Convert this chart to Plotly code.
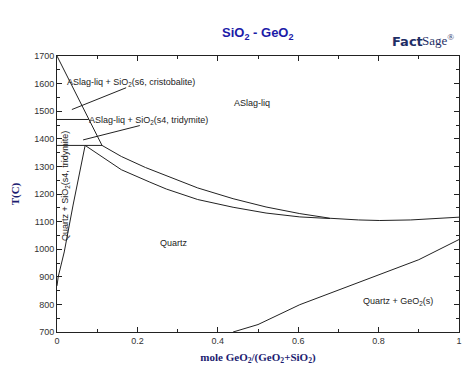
import plotly.graph_objects as go

# Phase boundary data (x = mole GeO2/(GeO2+SiO2), T in C)
liq_upper_x = [0.0, 0.079, 0.112]
liq_upper_t = [1700, 1470, 1376]

liq_x = [0.112, 0.16, 0.22, 0.272, 0.35, 0.438, 0.52, 0.604, 0.68, 0.75, 0.803, 0.88, 0.95, 1.0]
liq_t = [1376, 1336, 1296, 1266, 1222, 1183, 1153, 1129, 1112, 1106, 1104, 1106, 1111, 1116]

sol_x = [0.070, 0.11, 0.16, 0.231, 0.272, 0.35, 0.438, 0.52, 0.604, 0.68]
sol_t = [1376, 1336, 1288, 1243, 1218, 1180, 1152, 1131, 1117, 1111]

qz_x = [0.0, 0.003, 0.018, 0.04, 0.070]
qz_t = [867, 900, 990, 1160, 1376]

geo2_x = [0.438, 0.5, 0.604, 0.77, 0.9, 1.0]
geo2_t = [700, 727, 799, 889, 962, 1035]

iso_cristo_x = [0.0, 0.079]
iso_cristo_t = [1470, 1470]
iso_trid_x = [0.0, 0.112]
iso_trid_t = [1376, 1376]

ptr1_x = [0.037, 0.172]
ptr1_t = [1506, 1585]
ptr2_x = [0.065, 0.206]
ptr2_t = [1396, 1448]

xticks = [0, 0.2, 0.4, 0.6, 0.8, 1]
xticklabels = ["0", "0.2", "0.4", "0.6", "0.8", "1"]
yticks = list(range(700, 1701, 100))

line_style = dict(color="#222222", width=1)

fig = go.Figure()
for xs, ts in [(liq_upper_x, liq_upper_t), (liq_x, liq_t), (sol_x, sol_t), (qz_x, qz_t),
               (geo2_x, geo2_t), (iso_cristo_x, iso_cristo_t), (iso_trid_x, iso_trid_t),
               (ptr1_x, ptr1_t), (ptr2_x, ptr2_t)]:
    fig.add_trace(go.Scatter(x=xs, y=ts, mode="lines", line=line_style,
                             showlegend=False, hoverinfo="skip"))

# invisible trace to anchor mirror axes (top / right ticks)
fig.add_trace(go.Scatter(x=[0, 1], y=[700, 1700], xaxis="x2", yaxis="y2", mode="markers",
                         marker=dict(opacity=0), showlegend=False, hoverinfo="skip"))

lab_font = dict(family="Arial, Liberation Sans, sans-serif", size=9, color="#222222")
annots = [
    dict(x=0.019, y=1603, text="ASlag-liq + SiO<sub>2</sub>(s6, cristobalite)", xanchor="left"),
    dict(x=0.075, y=1466, text="ASlag-liq + SiO<sub>2</sub>(s4, tridymite)", xanchor="left"),
    dict(x=0.435, y=1531, text="ASlag-liq", xanchor="left"),
    dict(x=0.25, y=1021, text="Quartz", xanchor="left"),
    dict(x=0.755, y=809, text="Quartz + GeO<sub>2</sub>(s)", xanchor="left"),
    dict(x=0.0216, y=1228, text="Quartz + SiO<sub>2</sub>(s4, tridymite)", xanchor="center", textangle=-90),
]
for a in annots:
    fig.add_annotation(xref="x", yref="y", showarrow=False, font=lab_font, yanchor="middle", **a)

# Title
fig.add_annotation(xref="paper", yref="paper", x=0.5, y=1, yshift=33, showarrow=False,
                   text="<b>SiO<sub>2</sub> - GeO<sub>2</sub></b>",
                   font=dict(family="Arial, Liberation Sans, sans-serif", size=13, color="#1c1ca8"))
# FactSage logo text
fig.add_annotation(xref="paper", yref="paper", x=0.904, y=1, yshift=6, xanchor="left", yanchor="bottom",
                   showarrow=False, text="Sage<sup>®</sup>",
                   font=dict(family="Liberation Serif, serif", size=13, color="#1f2f66"))
fig.add_annotation(xref="paper", yref="paper", x=0.915, y=1, yshift=5, xanchor="right", yanchor="bottom",
                   showarrow=False, text="<b>Fact</b>",
                   font=dict(family="DejaVu Sans, Arial, sans-serif", size=13, color="#1f2f66"))

axis_common = dict(ticks="inside", ticklen=5, tickcolor="#222", showgrid=False, zeroline=False,
                   showline=True, linecolor="#222", linewidth=1)

fig.update_layout(
    width=474, height=373,
    margin=dict(l=57, r=15, t=56, b=39),
    paper_bgcolor="white", plot_bgcolor="white",
    xaxis=dict(range=[0, 1], tickvals=xticks, ticktext=xticklabels, **axis_common,
               minor=dict(dtick=0.1, ticks="inside", ticklen=3, tickcolor="#222", showgrid=False),
               tickfont=dict(family="Arial, Liberation Sans, sans-serif", size=9, color="#333"),
               title=dict(text="<b>mole GeO<sub>2</sub>/(GeO<sub>2</sub>+SiO<sub>2</sub>)</b>",
                          font=dict(family="Liberation Serif, Times New Roman, serif", size=11, color="#1c1c70"),
                          standoff=8)),
    yaxis=dict(range=[700, 1700], tickvals=yticks, **axis_common,
               minor=dict(dtick=50, ticks="inside", ticklen=3, tickcolor="#222", showgrid=False),
               tickfont=dict(family="Arial, Liberation Sans, sans-serif", size=9, color="#333"),
               title=dict(text="<b>T(C)</b>",
                          font=dict(family="Liberation Serif, Times New Roman, serif", size=11, color="#1c1c70"),
                          standoff=12)),
    xaxis2=dict(range=[0, 1], overlaying="x", side="top", anchor="y2", tickvals=xticks,
                showticklabels=False, **axis_common,
                minor=dict(dtick=0.1, ticks="inside", ticklen=3, tickcolor="#222", showgrid=False)),
    yaxis2=dict(range=[700, 1700], overlaying="y", side="right", anchor="x2", tickvals=yticks,
                showticklabels=False, **axis_common,
                minor=dict(dtick=50, ticks="inside", ticklen=3, tickcolor="#222", showgrid=False)),
)

fig.write_html("out.html")
